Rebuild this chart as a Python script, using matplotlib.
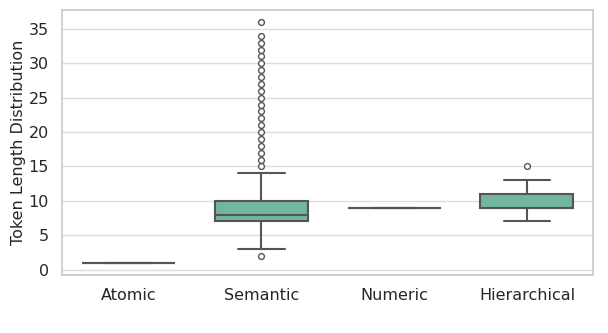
import matplotlib
matplotlib.use("Agg")
import matplotlib.pyplot as plt
import seaborn as sns

sns.set_theme(style="whitegrid")
plt.rcParams['font.family'] = ['DejaVu Sans']

categories = ["Atomic", "Semantic", "Numeric", "Hierarchical"]
q1 = [1, 7, 9, 9]
median = [1, 8, 9, 9]
q3 = [1, 10, 9, 11]
whisker_low = [1, 3, 9, 7]
whisker_high = [1, 14, 9, 13]
fliers = [
    [],
    [2] + list(range(15, 35)) + [36],
    [],
    [15],
]
yticks = [0, 5, 10, 15, 20, 25, 30, 35]

box_color = sns.desaturate("#66c2a5", 0.75)
line_color = "#555555"

stats = []
for i, name in enumerate(categories):
    stats.append(dict(label=name, q1=q1[i], med=median[i], q3=q3[i],
                      whislo=whisker_low[i], whishi=whisker_high[i],
                      fliers=fliers[i]))

fig, ax = plt.subplots(figsize=(6.08, 3.33), dpi=100)
ax.bxp(stats, positions=range(len(categories)), widths=0.7, capwidths=0.35,
       patch_artist=True, showfliers=True,
       boxprops=dict(facecolor=box_color, edgecolor=line_color, linewidth=1.5),
       medianprops=dict(color=line_color, linewidth=1.5),
       whiskerprops=dict(color=line_color, linewidth=1.5),
       capprops=dict(color=line_color, linewidth=1.5),
       flierprops=dict(marker='o', markersize=4.2, markerfacecolor='white',
                       markeredgecolor=line_color, markeredgewidth=1.0))

ax.set_xlim(-0.5, 3.5)
ax.set_ylim(-0.75, 37.75)
ax.set_yticks(yticks)
ax.set_xticks(range(len(categories)))
ax.set_xticklabels(categories, fontsize=11.5)
ax.tick_params(axis='y', labelsize=11.5)
ax.set_ylabel("Token Length Distribution", fontsize=11.5, labelpad=1.5)
ax.grid(axis='x', visible=False)
ax.grid(axis='y', color='#dddddd')
for s in ax.spines.values():
    s.set_color('#cccccc')

fig.subplots_adjust(left=0.102, right=0.976, top=0.97, bottom=0.175)
fig.savefig("out.png", dpi=100)
